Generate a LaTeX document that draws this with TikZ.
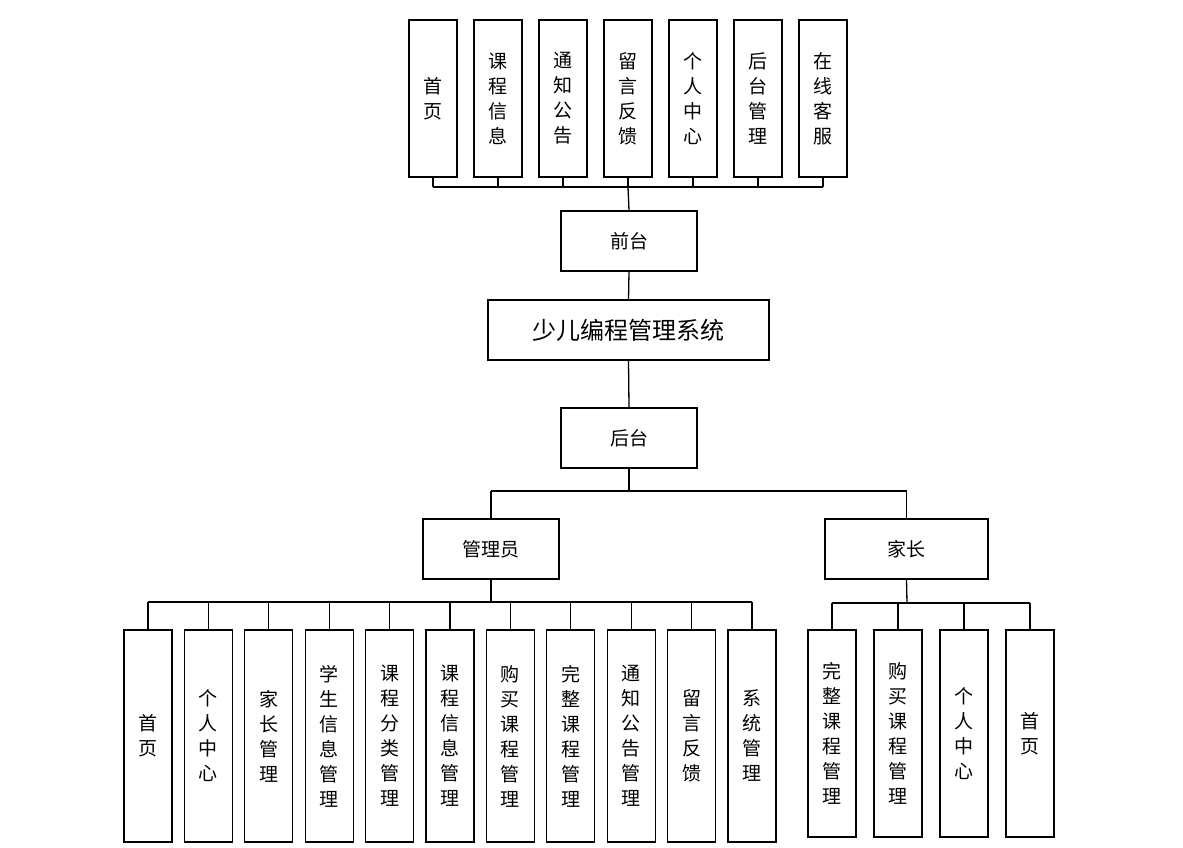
\documentclass[tikz,border=0pt]{standalone}
\usepackage{fontspec}
\setmainfont{Noto Sans CJK SC}
\begin{document}
\begin{tikzpicture}[x=1pt,y=-1pt,
 bx/.style={draw,line width=1.3pt,minimum width=48pt,inner sep=0pt,align=center,font=\fontsize{19}{25}\selectfont},
 hb/.style={draw,line width=1.3pt,inner sep=0pt,font=\fontsize{19}{25}\selectfont},
 ln/.style={line width=1.3pt}]
\useasboundingbox (0,0) rectangle (1183,847);
% top
\foreach \x/\t [count=\i] in {433/首\\页,498/课\\程\\信\\息,563/通\\知\\公\\告,628/留\\言\\反\\馈,693/个\\人\\中\\心,758/后\\台\\管\\理,823/在\\线\\客\\服}
  \node[bx,minimum height=157pt] (t\i) at (\x,98.5) {\t};
\node[hb,minimum width=136pt,minimum height=60pt] (qt) at (629,241) {前台};
\node[hb,minimum width=281pt,minimum height=60pt,font=\fontsize{24}{28}\selectfont] (sys) at (628.5,330) {少儿编程管理系统};
\node[hb,minimum width=136pt,minimum height=60pt] (ht) at (629,438) {后台};
\node[hb,minimum width=136pt,minimum height=60pt] (gly) at (491,549) {管理员};
\node[hb,minimum width=163pt,minimum height=60pt] (jz) at (906.5,549) {家长};
\coordinate (tb) at (628,187);
\foreach \i in {1,...,7} \draw[ln] (t\i.south) -- (t\i.south|-tb);
\draw[ln] (t1.south|-tb) -- (t7.south|-tb);
\draw[ln] (tb) -- (qt.north);
\draw[ln] (qt.south) -- (sys.north);
\draw[ln] (sys.south) -- (ht.north);
\coordinate (hb) at (629,491);
\draw[ln] (ht.south) -- (hb);
\draw[ln] (gly.north|-hb) -- (jz.north|-hb);
\draw[ln] (gly.north|-hb) -- (gly.north);
\draw[ln] (jz.north|-hb) -- (jz.north);
% admin
\coordinate (ab) at (491,602);
\foreach \t [count=\i] in {首\\页,个\\人\\中\\心,家\\长\\管\\理,学\\生\\信\\息\\管\\理,课\\程\\分\\类\\管\\理,课\\程\\信\\息\\管\\理,购\\买\\课\\程\\管\\理,完\\整\\课\\程\\管\\理,通\\知\\公\\告\\管\\理,留\\言\\反\\馈,系\\统\\管\\理}{
  \node[bx,minimum height=212pt] (a\i) at ({148+60.4*(\i-1)},736) {\t};
  \draw[ln] (a\i.north) -- (a\i.north|-ab);}
\draw[ln] (a1.north|-ab) -- (a11.north|-ab);
\draw[ln] (gly.south) -- (ab);
% parent
\coordinate (pb) at (907,603);
\foreach \x/\t [count=\i] in {832/完\\整\\课\\程\\管\\理,898/购\\买\\课\\程\\管\\理,964/个\\人\\中\\心,1030/首\\页}{
  \node[bx,minimum height=207pt] (p\i) at (\x,733.5) {\t};
  \draw[ln] (p\i.north) -- (p\i.north|-pb);}
\draw[ln] (p1.north|-pb) -- (p4.north|-pb);
\draw[ln] (jz.south) -- (pb);
\end{tikzpicture}
\end{document}
